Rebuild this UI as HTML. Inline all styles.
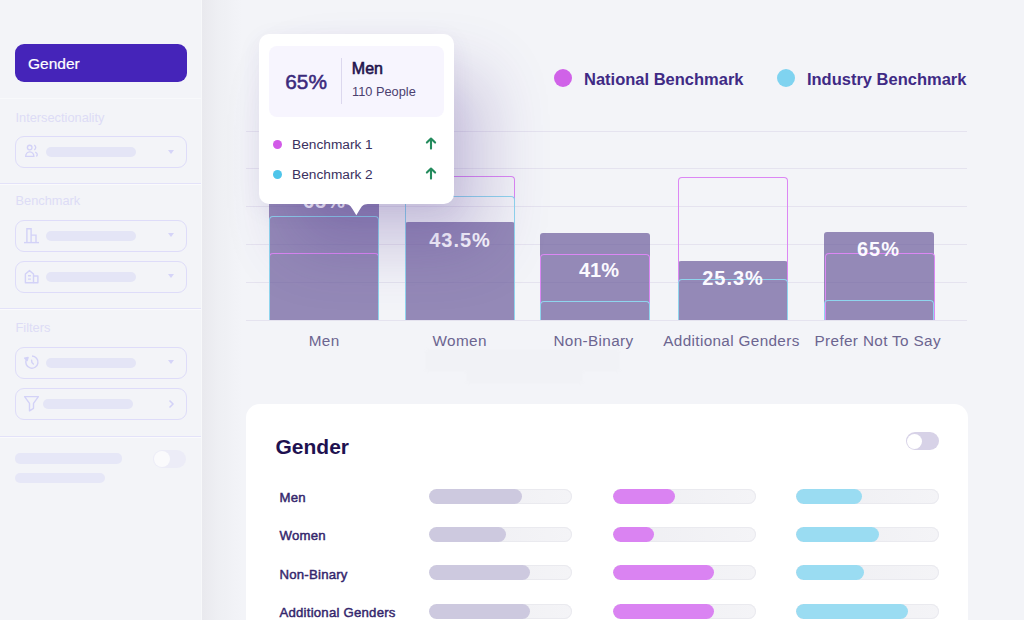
<!DOCTYPE html>
<html><head><meta charset="utf-8">
<style>
*{margin:0;padding:0;box-sizing:border-box}
html,body{width:1024px;height:620px;overflow:hidden;background:#f3f4f8;font-family:"Liberation Sans",sans-serif}
.a{position:absolute}
.t{position:absolute;line-height:1;white-space:nowrap}
#side{left:0;top:0;width:202px;height:620px;background:#f3f4f8}
#shade{left:202px;top:0;width:40px;height:620px;background:linear-gradient(to right,#e9e9ee,#eeeff3 40%,rgba(243,244,248,0))}
.btn{left:15px;top:44px;width:172px;height:38px;border-radius:9px;background:#4524b9}
.lbl{font-size:12.8px;color:#dddcf6;left:15.5px}
.dd{left:15px;width:172px;height:32px;border:1.6px solid #dedcf9;border-radius:9px}
.pill{height:10px;border-radius:5px;background:#e4e5f6}
.div{left:0;width:201px;height:1px;background:#e3e2f9;box-shadow:0 1px 0 rgba(255,255,255,.55)}
.car{width:0;height:0;border-left:3.6px solid transparent;border-right:3.6px solid transparent;border-top:4.2px solid #d5d4f8}
.grid{left:246px;width:721px;height:1px;background:#e5e3ef}
.bar{width:110px;border-radius:3px 3px 0 0;background:rgba(107,91,155,0.7)}
.mag{width:110px;border:1.5px solid #dc87f4;border-bottom:none;border-radius:4px 4px 0 0}
.cya{width:110px;border:1.5px solid #8fd5ee;border-bottom:none;border-radius:4px 4px 0 0}
.bl{font-size:20px;font-weight:bold;color:#fbfaff;text-align:center;width:110px;letter-spacing:1px;text-indent:1px}
.xl{font-size:15.3px;letter-spacing:.35px;text-indent:.35px;color:#6c6590;text-align:center;width:160px}
.trk{width:143px;height:15px;border-radius:7.5px;background:linear-gradient(to right,#eeeef2,#f4f4f7);box-shadow:inset 0 0 0 1px #eaeaef;overflow:hidden}
.trk i{display:block;height:15px;border-radius:7.5px}
.g i{background:#cdc9df}.m i{background:#da83f2}.c i{background:#9adcf2}
.rl{font-size:13.2px;letter-spacing:.22px;color:#34266c;-webkit-text-stroke:.45px #34266c;left:279.5px}
</style></head><body>
<!-- sidebar -->
<div class="a" id="side"></div>
<div class="a" style="left:0;top:98px;width:201px;height:1px;background:rgba(255,255,255,0.45)"></div>
<div class="a" style="left:201px;top:0;width:1px;height:620px;background:rgba(255,255,255,0.35)"></div>
<div class="a" id="shade"></div>

<div class="a btn"></div>
<div class="t" style="left:28px;top:56.1px;font-size:15.5px;color:#fff;-webkit-text-stroke:.2px #fff">Gender</div>

<div class="t lbl" style="top:111.6px">Intersectionality</div>
<div class="a dd" style="top:136px"></div>
<div class="a div" style="top:183px"></div>
<div class="t lbl" style="top:195.4px">Benchmark</div>
<div class="a dd" style="top:219.5px"></div>
<div class="a dd" style="top:260.5px"></div>
<div class="a div" style="top:308px"></div>
<div class="t lbl" style="top:322.2px">Filters</div>
<div class="a dd" style="top:346.5px"></div>
<div class="a dd" style="top:388px"></div>
<div class="a div" style="top:435.5px"></div>

<!-- pills in dropdowns -->
<div class="a pill" style="left:46px;top:147px;width:90px"></div>
<div class="a pill" style="left:46px;top:230.5px;width:90px"></div>
<div class="a pill" style="left:46px;top:271.5px;width:90px"></div>
<div class="a pill" style="left:46px;top:357.5px;width:90px"></div>
<div class="a pill" style="left:43px;top:399px;width:90px"></div>
<!-- carets -->
<div class="a car" style="left:167.9px;top:149.8px"></div>
<div class="a car" style="left:167.9px;top:233.4px"></div>
<div class="a car" style="left:167.9px;top:274.4px"></div>
<div class="a car" style="left:167.9px;top:360.4px"></div>
<svg class="a" style="left:165.5px;top:398px" width="10" height="12" viewBox="0 0 10 12"><path d="M3.5 2.5 L7 6 L3.5 9.5" fill="none" stroke="#d3d2f7" stroke-width="1.5"/></svg>
<!-- icons -->
<svg class="a" style="left:24px;top:143px" width="16" height="16" viewBox="0 0 16 16" fill="none" stroke="#d3d2f7" stroke-width="1.35"><circle cx="5.7" cy="4.5" r="2.3"/><path d="M1.7 13.4 A4.1 4.6 0 0 1 9.9 13.4 Z"/><path d="M10.2 2.1 A2.5 2.6 0 0 1 10.2 6.9"/><path d="M11.3 9.1 Q14.6 11 12.4 13.5"/></svg>
<svg class="a" style="left:23px;top:227px" width="17" height="17" viewBox="0 0 17 17" fill="none" stroke="#d3d2f7" stroke-width="1.4"><path d="M1 15.6 H16"/><path d="M3.9 15.6 V1.7 H8.1 V15.6"/><path d="M8.1 8.1 H13 V15.6"/></svg>
<svg class="a" style="left:24px;top:269px" width="16" height="16" viewBox="0 0 16 16" fill="none" stroke="#d3d2f7" stroke-width="1.4"><path d="M1.4 13.8 V5 L5.5 1.6 L9.5 5 V13.8 Z" stroke-linejoin="round"/><path d="M9.5 7 H13.9 V13.8 H9.5" stroke-linejoin="round"/><path d="M4 6.8 H6.9 M4 10.1 H6.9"/></svg>
<svg class="a" style="left:24px;top:355px" width="16" height="16" viewBox="0 0 16 16" fill="none" stroke="#d3d2f7" stroke-width="1.4"><path d="M8 1 A6.1 6.1 0 1 1 2.3 4.6"/><path d="M0.6 3.1 L4.1 2.5 L3.1 5.6 Z" fill="#d3d2f7" stroke-linejoin="round"/><path d="M7.6 5.2 L7.9 7.5 L9.4 8.9" stroke-linecap="round"/></svg>
<svg class="a" style="left:23px;top:395px" width="17" height="18" viewBox="0 0 17 18" fill="none" stroke="#d3d2f7" stroke-width="1.4" stroke-linejoin="round"><path d="M1.6 1.6 H15.4 L10.5 8.3 V13.3 L6.5 15.8 V8.3 Z"/></svg>

<div class="a pill" style="left:15.3px;top:453.3px;width:106.5px;height:10.5px;background:#e6e7f7"></div>
<div class="a pill" style="left:15.3px;top:472.8px;width:90px;background:#e6e7f7"></div>
<div class="a" style="left:153.2px;top:449.5px;width:33px;height:18px;border-radius:9px;background:#ececf7"></div>
<div class="a" style="left:153.8px;top:450.5px;width:16.2px;height:16.2px;border-radius:50%;background:#fafafc"></div>

<!-- grid -->
<div class="a grid" style="top:131px"></div>
<div class="a grid" style="top:168px"></div>
<div class="a grid" style="top:206px"></div>
<div class="a grid" style="top:244px"></div>
<div class="a grid" style="top:282px"></div>
<div class="a grid" style="top:320px"></div>

<!-- legend -->
<div class="a" style="left:553.7px;top:68.7px;width:18.6px;height:18.6px;border-radius:50%;background:#d062e8"></div>
<div class="t" style="left:584px;top:70.6px;font-size:16.5px;font-weight:bold;color:#3f2a85">National Benchmark</div>
<div class="a" style="left:776.8px;top:68.7px;width:18.6px;height:18.6px;border-radius:50%;background:#7fd3f0"></div>
<div class="t" style="left:806.9px;top:70.6px;font-size:16.5px;font-weight:bold;color:#3f2a85">Industry Benchmark</div>

<!-- bars -->
<div class="a bar" style="left:269px;top:184px;height:136px"></div>
<div class="a bar" style="left:404.5px;top:221.5px;height:98.5px"></div>
<div class="a bar" style="left:539.5px;top:233px;height:87px"></div>
<div class="a bar" style="left:677.5px;top:261.3px;height:58.7px"></div>
<div class="a bar" style="left:824px;top:232.2px;height:87.8px"></div>

<div class="a mag" style="left:269px;top:252.7px;height:67.3px"></div>
<div class="a mag" style="left:404.5px;top:176px;height:144px"></div>
<div class="a mag" style="left:539.5px;top:254px;height:66px"></div>
<div class="a mag" style="left:677.5px;top:177px;height:143px"></div>
<div class="a mag" style="left:824.5px;top:253.2px;height:66.8px"></div>

<div class="a cya" style="left:269px;top:215.8px;height:104.2px"></div>
<div class="a cya" style="left:404.5px;top:195.8px;height:124.2px"></div>
<div class="a cya" style="left:539.5px;top:301px;height:19px"></div>
<div class="a cya" style="left:677.5px;top:278.7px;height:41.3px"></div>
<div class="a cya" style="left:824px;top:299.8px;height:20.2px"></div>

<div class="t bl" style="left:269px;top:190.8px">65%</div>
<div class="t bl" style="left:404.5px;top:230.1px">43.5%</div>
<div class="t bl" style="left:544px;top:259.8px;letter-spacing:0;text-indent:0">41%</div>
<div class="t bl" style="left:677.5px;top:268.4px">25.3%</div>
<div class="t bl" style="left:823px;top:238.9px">65%</div>

<svg class="a" style="left:420px;top:345px;filter:blur(1.5px)" width="205" height="45"><path d="M8 4 H197 Q200 4 200 8 V24 Q200 27 196 27 H163 V36 Q163 39 159 39 H50 Q46 39 46 36 V27 H9 Q5 27 5 24 V8 Q5 4 8 4 Z" fill="rgb(150,150,180)" fill-opacity="0.022"/></svg>
<!-- x labels -->
<div class="t xl" style="left:244px;top:333px">Men</div>
<div class="t xl" style="left:379.5px;top:333px">Women</div>
<div class="t xl" style="left:513.3px;top:333px">Non-Binary</div>
<div class="t xl" style="left:651.3px;top:333px">Additional Genders</div>
<div class="t xl" style="left:797.6px;top:333px">Prefer Not To Say</div>

<!-- tooltip -->
<div class="a" style="left:259px;top:33.5px;width:195px;height:170.5px;border-radius:10px;background:#fff;box-shadow:0 6px 24px rgba(70,40,140,0.07),32px 42px 64px rgba(70,40,140,0.23)"></div>
<svg class="a" style="left:343px;top:200px" width="27" height="16" viewBox="0 0 27 16"><path d="M0 4 C6 4 7 5 9.5 9 L13.3 15.3 L17.1 9 C19.6 5 20.6 4 27 4 L27 0 L0 0 Z" fill="#fff"/></svg>
<div class="a" style="left:269px;top:45.6px;width:175px;height:71.7px;border-radius:8px;background:#f7f5fe"></div>
<div class="a" style="left:341px;top:58px;width:1px;height:46.4px;background:#dcd8ee"></div>
<div class="t" style="left:285.3px;top:71.6px;font-size:20.8px;color:#3b2a7c;-webkit-text-stroke:0.55px #3b2a7c">65%</div>
<div class="t" style="left:351.8px;top:61.3px;font-size:16px;color:#22124d;-webkit-text-stroke:.6px #22124d">Men</div>
<div class="t" style="left:352px;top:85.5px;font-size:12.8px;color:#4b406e">110 People</div>
<div class="a" style="left:272.5px;top:140px;width:9px;height:9px;border-radius:50%;background:#d25ae8"></div>
<div class="a" style="left:272.5px;top:170px;width:9px;height:9px;border-radius:50%;background:#4ec5ea"></div>
<div class="t" style="left:292.1px;top:138.3px;font-size:13.7px;color:#3a3060">Benchmark 1</div>
<div class="t" style="left:292.1px;top:168px;font-size:13.7px;color:#3a3060">Benchmark 2</div>
<svg class="a" style="left:425px;top:137px" width="12" height="13" viewBox="0 0 12 13" fill="none" stroke="#248b5d" stroke-width="2.1" stroke-linecap="round" stroke-linejoin="round"><path d="M6 11.6 V2 M1.9 5.6 L6 1.6 L10.1 5.6"/></svg>
<svg class="a" style="left:425px;top:167px" width="12" height="13" viewBox="0 0 12 13" fill="none" stroke="#248b5d" stroke-width="2.1" stroke-linecap="round" stroke-linejoin="round"><path d="M6 11.6 V2 M1.9 5.6 L6 1.6 L10.1 5.6"/></svg>

<!-- card -->
<div class="a" style="left:246px;top:404px;width:721.5px;height:240px;border-radius:14px;background:#fff"></div>
<div class="t" style="left:275.5px;top:435.8px;font-size:21px;font-weight:bold;color:#1e1150">Gender</div>
<div class="a" style="left:905.5px;top:432.2px;width:33px;height:18.3px;border-radius:9.2px;background:#d7d2e7"></div>
<div class="a" style="left:907px;top:433.7px;width:15.3px;height:15.3px;border-radius:50%;background:#fff"></div>

<div class="t rl" style="top:491px">Men</div>
<div class="t rl" style="top:529.4px">Women</div>
<div class="t rl" style="top:567.8px">Non-Binary</div>
<div class="t rl" style="top:605.5px">Additional Genders</div>

<div class="a trk g" style="left:429px;top:489px"><i style="width:92.7px"></i></div>
<div class="a trk g" style="left:429px;top:527.3px"><i style="width:77px"></i></div>
<div class="a trk g" style="left:429px;top:565.4px"><i style="width:101px"></i></div>
<div class="a trk g" style="left:429px;top:603.5px"><i style="width:101px"></i></div>
<div class="a trk m" style="left:612.5px;top:489px"><i style="width:62.6px"></i></div>
<div class="a trk m" style="left:612.5px;top:527.3px"><i style="width:41px"></i></div>
<div class="a trk m" style="left:612.5px;top:565.4px"><i style="width:101px"></i></div>
<div class="a trk m" style="left:612.5px;top:603.5px"><i style="width:101px"></i></div>
<div class="a trk c" style="left:795.5px;top:489px"><i style="width:66.6px"></i></div>
<div class="a trk c" style="left:795.5px;top:527.3px"><i style="width:83.3px"></i></div>
<div class="a trk c" style="left:795.5px;top:565.4px"><i style="width:68.8px"></i></div>
<div class="a trk c" style="left:795.5px;top:603.5px"><i style="width:112.8px"></i></div>
</body></html>
